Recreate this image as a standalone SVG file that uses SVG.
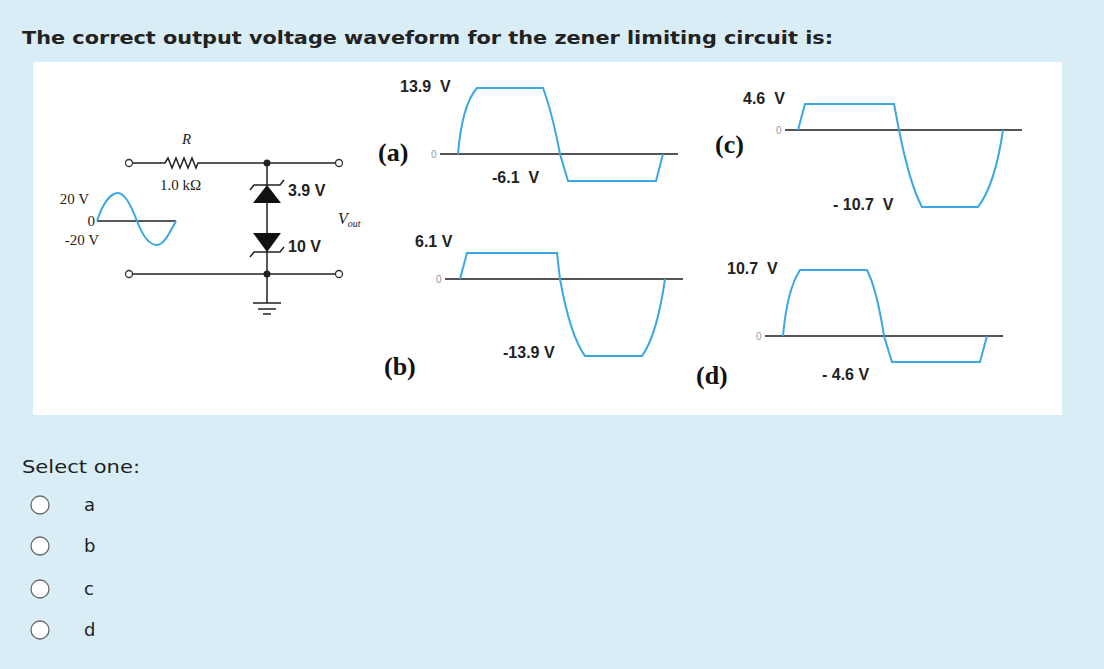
<svg xmlns="http://www.w3.org/2000/svg" width="1104" height="669" viewBox="0 0 1104 669">
<style>
text{white-space:pre}
.w{fill:none;stroke:#3aa8e4;stroke-width:2}
.ax{stroke:#555;stroke-width:2}
.wire{stroke:#222;stroke-width:1.5;fill:none}
.term{fill:#fff;stroke:#333;stroke-width:1.3}
.lb{font-family:"Liberation Sans",Arial,sans-serif;font-weight:bold;font-size:16px;fill:#222}
.se{font-family:"Liberation Serif","Times New Roman",serif;fill:#222}
.pl{font-family:"Liberation Serif",serif;font-weight:bold;font-size:26px;fill:#111}
.z{font-family:"Liberation Sans",sans-serif;font-size:10px;fill:#999}
.ui{font-family:"DejaVu Sans",Verdana,sans-serif;font-size:18px;fill:#222}
.rb{fill:#fff;stroke:#666;stroke-width:1.3}
</style>
<rect width="1104" height="669" fill="#d9edf7"/>
<text x="22" y="44" class="ui" font-weight="bold" font-size="21" textLength="811" lengthAdjust="spacingAndGlyphs">The correct output voltage waveform for the zener limiting circuit is:</text>
<rect x="33" y="62" width="1029" height="353" fill="#fff"/>
<g id="circuit">
<path class="wire" d="M133 163H165 l3-5 4 10 4-10 4 10 4-10 4 10 4-10 4 10 2-5H335"/>
<path class="wire" d="M133 274H335 M267 163V303 M253 303H281 M258 309H276 M263 314H271"/>
<circle class="term" cx="129" cy="163" r="3.5"/><circle class="term" cx="339" cy="163" r="3.5"/>
<circle class="term" cx="129" cy="274" r="3.5"/><circle class="term" cx="339" cy="274" r="3.5"/>
<circle cx="267" cy="163" r="3.5" fill="#222"/><circle cx="267" cy="274" r="3.5" fill="#222"/>
<path d="M253 203H281L267 185Z" fill="#111"/>
<path class="wire" d="M250 190l4-5H280l4-5"/>
<path d="M253 233H281L267 252Z" fill="#111"/>
<path class="wire" d="M250 257l4-5H280l4-5"/>
<text x="288" y="196" class="lb">3.9 V</text>
<text x="288" y="252" class="lb">10 V</text>
<text x="182" y="144" class="se" font-style="italic" font-size="15">R</text>
<text x="160" y="190" class="se" font-size="15">1.0 kΩ</text>
<text x="338" y="224" class="se" font-style="italic" font-size="16" fill="#3aa8e4">V<tspan font-size="10" dy="3">out</tspan></text>
<path class="wire" d="M97 221H176"/>
<path class="w" d="M97 221C104 200 112 193 118 193S131 205 137 221S150 245 157 245S170 232 176 221"/>
<text x="89" y="204" class="se" font-size="15" text-anchor="end">20 V</text>
<text x="95" y="226" class="se" font-size="15" text-anchor="end">0</text>
<text x="99" y="245" class="se" font-size="15" text-anchor="end">-20 V</text>
</g>
<g id="wave-a">
<line class="ax" x1="440" y1="154" x2="678" y2="154"/><text x="431" y="158" class="z">0</text>
<path class="w" d="M458 154Q462 105 477 88H543Q552 112 560 154L568 181H656L663 154"/>
<text x="400" y="92" class="lb">13.9  V</text>
<text x="492" y="183" class="lb">-6.1  V</text>
<text x="378" y="161" class="pl">(a)</text>
</g>
<g id="wave-b">
<line class="ax" x1="445" y1="279" x2="683" y2="279"/><text x="436" y="283" class="z">0</text>
<path class="w" d="M460 279L467 253H557L560 279Q570 335 585 356H642Q657 335 665 279"/>
<text x="415" y="247" class="lb">6.1 V</text>
<text x="503" y="358" class="lb">-13.9 V</text>
<text x="384" y="375" class="pl">(b)</text>
</g>
<g id="wave-c">
<line class="ax" x1="785" y1="130" x2="1022" y2="130"/><text x="776" y="134" class="z">0</text>
<path class="w" d="M798 130L805 104H894L899 130Q910 185 922 207H978Q995 185 1003 130"/>
<text x="743" y="104" class="lb">4.6  V</text>
<text x="833" y="210" class="lb">- 10.7  V</text>
<text x="715" y="153" class="pl">(c)</text>
</g>
<g id="wave-d">
<line class="ax" x1="765" y1="336" x2="1003" y2="336"/><text x="756" y="340" class="z">0</text>
<path class="w" d="M783 336Q787 290 800 270H867Q877 290 884 336L892 362H980L987 336"/>
<text x="727" y="274" class="lb">10.7  V</text>
<text x="822" y="380" class="lb">- 4.6 V</text>
<text x="696" y="384" class="pl">(d)</text>
</g>
<g id="options">
<text x="22" y="473" class="ui" font-size="19" textLength="118" lengthAdjust="spacingAndGlyphs">Select one:</text>
<circle class="rb" cx="40" cy="505" r="9"/><text x="84" y="511" class="ui">a</text>
<circle class="rb" cx="40" cy="546" r="9"/><text x="84" y="552" class="ui">b</text>
<circle class="rb" cx="40" cy="589" r="9"/><text x="84" y="595" class="ui">c</text>
<circle class="rb" cx="40" cy="630" r="9"/><text x="84" y="636" class="ui">d</text>
</g>
</svg>
